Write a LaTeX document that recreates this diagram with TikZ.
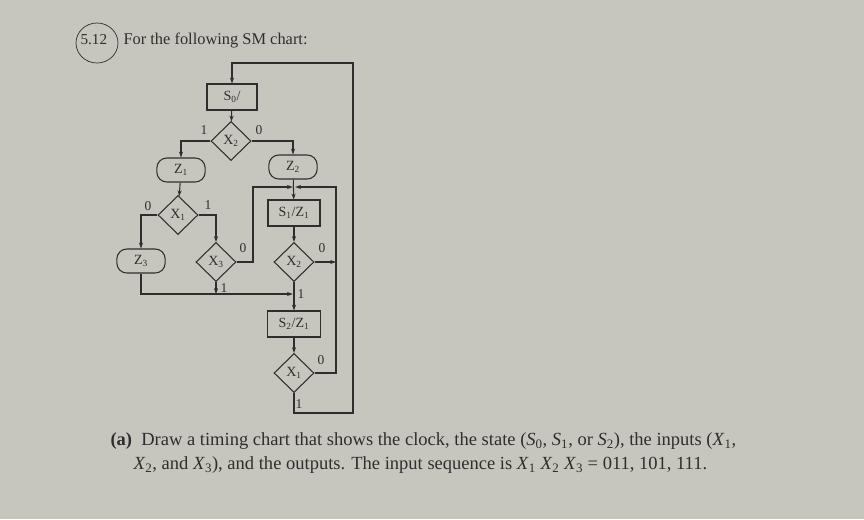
\documentclass[tikz,border=0pt]{standalone}
\usepackage{fontspec}
\setmainfont{Liberation Serif}
\usetikzlibrary{shapes.geometric,arrows.meta}
\definecolor{pagegray}{HTML}{C6C6BF}
\definecolor{ink}{HTML}{2E2E2E}
\begin{document}
\begin{tikzpicture}[x=0.03cm, y=-0.03cm, >={Stealth[length=5pt,width=3.5pt]}, line width=0.9pt, color=ink]
  % Estilos
  \tikzstyle{statebox}=[draw, minimum width=1.5cm, minimum height=0.78cm, inner sep=0pt, font=\fontsize{12}{14}\selectfont]
  \tikzstyle{decision}=[draw, diamond, minimum width=1.2cm, minimum height=1.17cm, inner sep=0pt, font=\fontsize{12}{14}\selectfont]
  \tikzstyle{outbox}=[draw, rounded corners=0.3cm, minimum width=1.45cm, minimum height=0.72cm, inner sep=0pt, font=\fontsize{12}{14}\selectfont]
  \tikzstyle{lbl}=[font=\fontsize{11.5}{13}\selectfont]

  \fill[pagegray] (0,0) rectangle (864,519);

  % Texto
  \node[anchor=west, font=\fontsize{13}{15}\selectfont, inner sep=0pt] (num) at (80,40) {5.12};
  \node[anchor=west, font=\fontsize{14}{16}\selectfont, inner sep=0pt] (title) at (123,40) {For the following SM chart:};
  \draw[line width=0.6pt] (97,43) ellipse (21 and 20);
  \node[anchor=west, font=\fontsize{15.8}{18}\selectfont, inner sep=0pt] (linea) at (110,441)
    {\textbf{(a)}\ \ Draw a timing chart that shows the clock, the state (\textit{S}\textsubscript{0}, \textit{S}\textsubscript{1}, or \textit{S}\textsubscript{2}), the inputs (\textit{X}\textsubscript{1},};
  \node[anchor=west, font=\fontsize{15.8}{18}\selectfont, inner sep=0pt] (lineb) at (133,465)
    {\textit{X}\textsubscript{2}, and \textit{X}\textsubscript{3}), and the outputs. The input sequence is \textit{X}\textsubscript{1} \textit{X}\textsubscript{2} \textit{X}\textsubscript{3} = 011, 101, 111.};

  % Nos
  \node[statebox] (s0) at (232,97) {S\textsubscript{0}/};
  \node[decision] (x2a) at (231,141) {X\textsubscript{2}};
  \node[outbox] (z1) at (181,170) {Z\textsubscript{1}};
  \node[outbox] (z2) at (293,167) {Z\textsubscript{2}};
  \node[decision] (x1a) at (178,215) {X\textsubscript{1}};
  \node[statebox, minimum width=1.56cm] (s1) at (294,213) {S\textsubscript{1}/Z\textsubscript{1}};
  \node[outbox] (z3) at (141,261) {Z\textsubscript{3}};
  \node[decision] (x3) at (216,262) {X\textsubscript{3}};
  \node[decision] (x2b) at (294,262) {X\textsubscript{2}};
  \node[statebox, minimum width=1.6cm] (s2) at (294,324) {S\textsubscript{2}/Z\textsubscript{1}};
  \node[decision] (x1b) at (294,373) {X\textsubscript{1}};
  \coordinate (jn) at (294,187);
  \coordinate (jm) at (294,294);
  \coordinate (jr) at (336,262);

  % Arestas
  \draw[->] (x1b.south) -- (294,413) -- (353,413) -- (353,63) -| (s0.north);
  \draw[->] (s0) -- (x2a);
  \draw[->] (x2a.west) -| (z1.north);
  \draw[->] (x2a.east) -| (z2.north);
  \draw[->] (z1) -- (x1a);
  \draw[->] (x1a.west) -| (z3.north);
  \draw[->] (x1a.east) -| (x3.north);
  \draw[->] (z2) -- (s1);
  \draw[->] (x3.east) -| (253,187) -- ([xshift=-1pt]jn);
  \draw[->] (x1b.east) -| (336,187) -- ([xshift=1pt]jn);
  \draw[->] (x2b.east) -- (jr);
  \draw[->] (s1) -- (x2b);
  \draw[->] (x2b) -- (s2);
  \draw[->] (z3.south) |- ([xshift=-1pt]jm);
  \draw[->] (x3.south) -- (216,294);
  \draw[->] (s2) -- (x1b);

  % Rotulos
  \node[lbl] at (204,130) {1};
  \node[lbl] at (259,130) {0};
  \node[lbl] at (148,206) {0};
  \node[lbl] at (208,205) {1};
  \node[lbl] at (243,248) {0};
  \node[lbl] at (224,288) {1};
  \node[lbl] at (322,248) {0};
  \node[lbl] at (301,294) {1};
  \node[lbl] at (321,360) {0};
  \node[lbl] at (299,404) {1};
\end{tikzpicture}
\end{document}
